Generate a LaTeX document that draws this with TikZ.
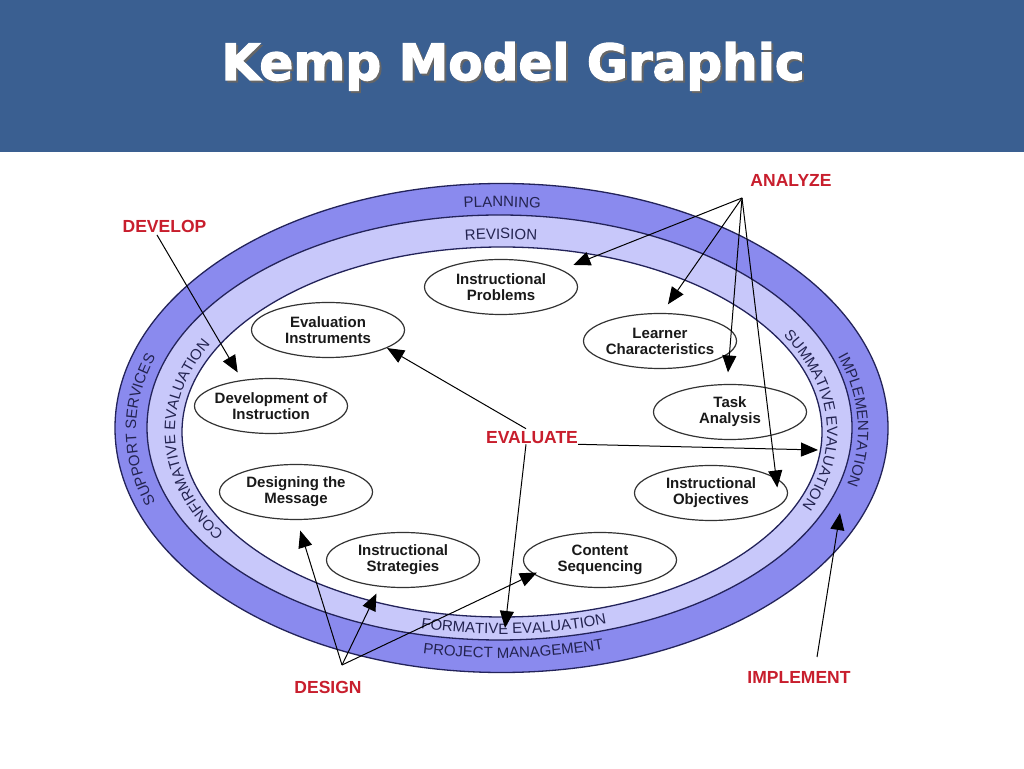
\documentclass[tikz,border=0pt]{standalone}
\usepackage{fontspec}
\setmainfont{Liberation Sans}
\newfontfamily\titlefont{DejaVu Sans}[BoldFeatures={FakeBold=2.5}]
\usepackage{tikz}
\usetikzlibrary{arrows.meta,positioning,shapes.geometric,decorations.text}

\definecolor{banner}{RGB}{58,95,145}
\definecolor{ringdark}{RGB}{138,138,238}
\definecolor{ringlight}{RGB}{200,200,250}
\definecolor{ringline}{RGB}{35,35,90}
\definecolor{ringtext}{RGB}{35,35,80}
\definecolor{phasered}{RGB}{200,30,45}

\newcommand{\bandfont}{\fontsize{15}{15}\selectfont\color{ringtext}}

\tikzset{
  oval/.style={ellipse,draw=black!80,line width=1.2pt,fill=white,minimum width=153pt,minimum height=55pt,
    inner xsep=-2.5pt,inner ysep=0pt,align=center,font=\fontsize{15}{16}\selectfont\bfseries,text=black!90},
  phase/.style={text=phasered,inner sep=0pt,font=\fontsize{17.5}{18}\selectfont\bfseries},
  arr/.style={-{Triangle[length=17pt,width=14pt]},line width=1pt,black},
  bandtext/.style={decorate,decoration={text along path,text align=center,text={|\bandfont|#1}}}
}

\begin{document}
\begin{tikzpicture}[x=1pt,y=1pt]
  \useasboundingbox (0,0) rectangle (1024,768);
  \fill[white] (0,0) rectangle (1024,768);
  \fill[banner] (0,616) rectangle (1024,768);
  \node[text=black!60,anchor=base] (tshadow) at (515,686) {\titlefont\bfseries\fontsize{50}{50}\selectfont Kemp Model Graphic};
  \node[text=white,anchor=base] (title) at (513,688) {\titlefont\bfseries\fontsize{50}{50}\selectfont Kemp Model Graphic};

  \draw[ringline,line width=1.3pt,fill=ringdark] (501.5,340) ellipse [x radius=386.5,y radius=244.5];
  \draw[ringline,line width=1.3pt,fill=ringlight] (499.5,340.5) ellipse [x radius=352.5,y radius=212.5];
  \draw[ringline,line width=1.3pt,fill=white] (502,336) ellipse [x radius=320,y radius=185];

  \path[bandtext=PLANNING] ([shift={(134:361 and 223)}]497,338) arc[start angle=134,end angle=44,x radius=361,y radius=223];
  \path[bandtext={SUPPORT SERVICES}] ([shift={(225:361 and 223)}]497,338) arc[start angle=225,end angle=135,x radius=361,y radius=223];
  \path[bandtext=IMPLEMENTATION] ([shift={(47:361 and 223)}]497,338) arc[start angle=47,end angle=-43,x radius=361,y radius=223];
  \path[bandtext=REVISION] ([shift={(135:326 and 193)}]501,336) arc[start angle=135,end angle=45,x radius=326,y radius=193];
  \path[bandtext={CONFIRMATIVE EVALUATION}] ([shift={(232:326 and 193)}]501,336) arc[start angle=232,end angle=132,x radius=326,y radius=193];
  \path[bandtext={SUMMATIVE EVALUATION}] ([shift={(53:326 and 193)}]501,336) arc[start angle=53,end angle=-47,x radius=326,y radius=193];
  \path[bandtext={PROJECT MANAGEMENT}] ([shift={(227.5:372 and 228)}]500,338) arc[start angle=227.5,end angle=317.5,x radius=372,y radius=228];
  \path[bandtext={FORMATIVE EVALUATION}] ([shift={(227.7:335 and 202)}]501,336) arc[start angle=227.7,end angle=317.7,x radius=335,y radius=202];

  \node[oval] (ip) at (501,481) {Instructional\\Problems};
  \node[oval] (ei) at (328,438) {Evaluation\\Instruments};
  \node[oval] (di) at (271,362) {Development of\\Instruction};
  \node[oval] (lc) at (660,427) {Learner\\Characteristics};
  \node[oval] (ta) at (730,356) {Task\\Analysis};
  \node[oval] (io) at (711,275) {Instructional\\Objectives};
  \node[oval] (cs) at (600,208) {Content\\Sequencing};
  \node[oval] (is) at (403,208) {Instructional\\Strategies};
  \node[oval] (dm) at (296,276) {Designing the\\Message};

  \node[phase] (dv) at (164.5,542) {DEVELOP};
  \node[phase] (an) at (791,588) {ANALYZE};
  \node[phase] (ev) at (532,330) {EVALUATE};
  \node[phase] (dg) at (328,81) {DESIGN};
  \node[phase] (im) at (799,91) {IMPLEMENT};

  \coordinate (ano) at (742,570);
  \coordinate (dvo) at (157,533);
  \coordinate (dgo) at (342,103);
  \coordinate (imo) at (817,111);
  \coordinate (se) at (818,318);
  \coordinate (fe) at (505,140);
  \coordinate (ie) at (840,255);

  \draw[arr,shorten >=12.6pt] (ano) -- (ip.16);
  \draw[arr,shorten >=10.5pt] (ano) -- (lc.86);
  \draw[arr,shorten >=11.5pt] (ano) -- (ta.96);
  \draw[arr,shorten >=-9.6pt] (ano) -- (io.13);
  \draw[arr,shorten >=8.7pt] (dvo) -- (di.138);
  \draw[arr] ([xshift=-6pt,yshift=3pt]ev.north) -- (ei.-17);
  \draw[arr] (ev.south east) -- (se);
  \draw[arr] ([xshift=-6pt]ev.south) -- (fe);
  \draw[arr,shorten >=11pt] (dgo) -- (dm.-88);
  \draw[arr,shorten >=7.5pt] (dgo) -- (is.-131);
  \draw[arr,shorten >=-3.9pt] (dgo) -- (cs.192);
  \draw[arr] (imo) -- (ie);
\end{tikzpicture}
\end{document}
